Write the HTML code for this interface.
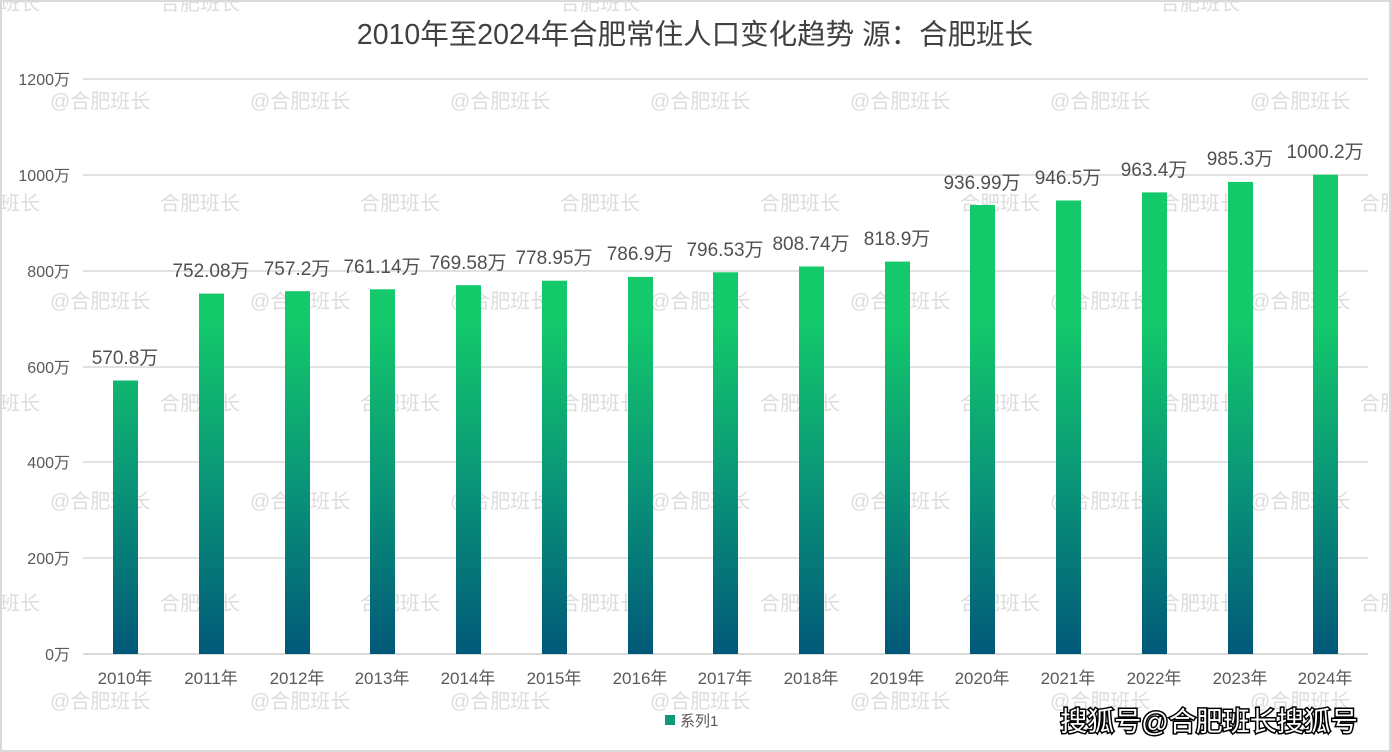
<!DOCTYPE html>
<html><head><meta charset="utf-8"><style>
html,body{margin:0;padding:0;background:#fff}
svg{display:block}
text{font-family:"Liberation Sans","Noto Sans CJK SC",sans-serif}
</style></head><body>
<svg width="1391" height="752" viewBox="0 0 1391 752" xmlns="http://www.w3.org/2000/svg">
<defs>
<linearGradient id="g" gradientUnits="userSpaceOnUse" x1="0" y1="654" x2="0" y2="320">
<stop offset="0" stop-color="#005878"/>
<stop offset="0.5" stop-color="#0a9478"/>
<stop offset="1" stop-color="#13c96a"/>
</linearGradient>
</defs>
<rect x="1" y="1" width="1389" height="750" fill="#fff" stroke="#d9d9d9" stroke-width="2"/>
<g fill="#dcdcdc" font-size="20">
<text x="50" y="108">@合肥班长</text><text x="250" y="108">@合肥班长</text><text x="450" y="108">@合肥班长</text><text x="650" y="108">@合肥班长</text><text x="850" y="108">@合肥班长</text><text x="1050" y="108">@合肥班长</text><text x="1250" y="108">@合肥班长</text>
<text x="50" y="308">@合肥班长</text><text x="250" y="308">@合肥班长</text><text x="450" y="308">@合肥班长</text><text x="650" y="308">@合肥班长</text><text x="850" y="308">@合肥班长</text><text x="1050" y="308">@合肥班长</text><text x="1250" y="308">@合肥班长</text>
<text x="50" y="508">@合肥班长</text><text x="250" y="508">@合肥班长</text><text x="450" y="508">@合肥班长</text><text x="650" y="508">@合肥班长</text><text x="850" y="508">@合肥班长</text><text x="1050" y="508">@合肥班长</text><text x="1250" y="508">@合肥班长</text>
<text x="50" y="708">@合肥班长</text><text x="250" y="708">@合肥班长</text><text x="450" y="708">@合肥班长</text><text x="650" y="708">@合肥班长</text><text x="850" y="708">@合肥班长</text><text x="1050" y="708">@合肥班长</text><text x="1250" y="708">@合肥班长</text>
<text x="-40" y="210">合肥班长</text><text x="160" y="210">合肥班长</text><text x="360" y="210">合肥班长</text><text x="560" y="210">合肥班长</text><text x="760" y="210">合肥班长</text><text x="960" y="210">合肥班长</text><text x="1160" y="210">合肥班长</text><text x="1360" y="210">合肥班长</text>
<text x="-40" y="410">合肥班长</text><text x="160" y="410">合肥班长</text><text x="360" y="410">合肥班长</text><text x="560" y="410">合肥班长</text><text x="760" y="410">合肥班长</text><text x="960" y="410">合肥班长</text><text x="1160" y="410">合肥班长</text><text x="1360" y="410">合肥班长</text>
<text x="-40" y="610">合肥班长</text><text x="160" y="610">合肥班长</text><text x="360" y="610">合肥班长</text><text x="560" y="610">合肥班长</text><text x="760" y="610">合肥班长</text><text x="960" y="610">合肥班长</text><text x="1160" y="610">合肥班长</text><text x="1360" y="610">合肥班长</text>
<text x="160" y="10">合肥班长</text><text x="560" y="10">合肥班长</text><text x="1160" y="10">合肥班长</text><text x="-40" y="10">合肥班长</text>
</g>
<text x="695" y="44" text-anchor="middle" font-size="28.5" fill="#404040">2010年至2024年合肥常住人口变化趋势  源：合肥班长</text>
<g stroke="#d9d9d9" stroke-width="1.5">
<line x1="83" y1="79" x2="1368" y2="79"/><line x1="83" y1="175" x2="1368" y2="175"/><line x1="83" y1="271" x2="1368" y2="271"/><line x1="83" y1="367" x2="1368" y2="367"/><line x1="83" y1="462" x2="1368" y2="462"/><line x1="83" y1="558" x2="1368" y2="558"/><line x1="83" y1="654" x2="1368" y2="654" stroke-width="2"/>
</g>
<g font-size="16" fill="#595959" text-anchor="end">
<text x="70" y="85">1200万</text><text x="70" y="181">1000万</text><text x="70" y="277">800万</text><text x="70" y="373">600万</text><text x="70" y="468">400万</text><text x="70" y="564">200万</text><text x="70" y="660">0万</text>
</g>
<g fill="url(#g)">
<rect x="113" y="380.5" width="25" height="273.5"/>
<rect x="199" y="293.6" width="25" height="360.4"/>
<rect x="285" y="291.2" width="25" height="362.8"/>
<rect x="370" y="289.3" width="25" height="364.7"/>
<rect x="456" y="285.2" width="25" height="368.8"/>
<rect x="542" y="280.7" width="25" height="373.3"/>
<rect x="628" y="276.9" width="25" height="377.1"/>
<rect x="713" y="272.3" width="25" height="381.7"/>
<rect x="799" y="266.5" width="25" height="387.5"/>
<rect x="885" y="261.6" width="25" height="392.4"/>
<rect x="970" y="205.0" width="25" height="449.0"/>
<rect x="1056" y="200.5" width="25" height="453.5"/>
<rect x="1142" y="192.4" width="25" height="461.6"/>
<rect x="1228" y="181.9" width="25" height="472.1"/>
<rect x="1313" y="174.7" width="25" height="479.3"/>
</g>
<g font-size="19" fill="#505050" text-anchor="middle">
<text x="125" y="364">570.8万</text>
<text x="211" y="277">752.08万</text>
<text x="297" y="275">757.2万</text>
<text x="382" y="273">761.14万</text>
<text x="468" y="269">769.58万</text>
<text x="554" y="264">778.95万</text>
<text x="640" y="260">786.9万</text>
<text x="725" y="256">796.53万</text>
<text x="811" y="250">808.74万</text>
<text x="897" y="245">818.9万</text>
<text x="982" y="189">936.99万</text>
<text x="1068" y="184">946.5万</text>
<text x="1154" y="176">963.4万</text>
<text x="1240" y="165">985.3万</text>
<text x="1325" y="158">1000.2万</text>
</g>
<g font-size="17" fill="#595959" text-anchor="middle">
<text x="125" y="684">2010年</text><text x="211" y="684">2011年</text><text x="297" y="684">2012年</text><text x="382" y="684">2013年</text><text x="468" y="684">2014年</text><text x="554" y="684">2015年</text><text x="640" y="684">2016年</text><text x="725" y="684">2017年</text><text x="811" y="684">2018年</text><text x="897" y="684">2019年</text><text x="982" y="684">2020年</text><text x="1068" y="684">2021年</text><text x="1154" y="684">2022年</text><text x="1240" y="684">2023年</text><text x="1325" y="684">2024年</text>
</g>
<rect x="665" y="715" width="10" height="10" fill="#0a9a78"/>
<text x="680" y="726" font-size="15" fill="#595959">系列1</text>
<text x="1209" y="731" text-anchor="middle" font-size="27" fill="#fff" stroke="#000" stroke-width="3" paint-order="stroke">搜狐号@合肥班长搜狐号</text>
</svg>
</body></html>
